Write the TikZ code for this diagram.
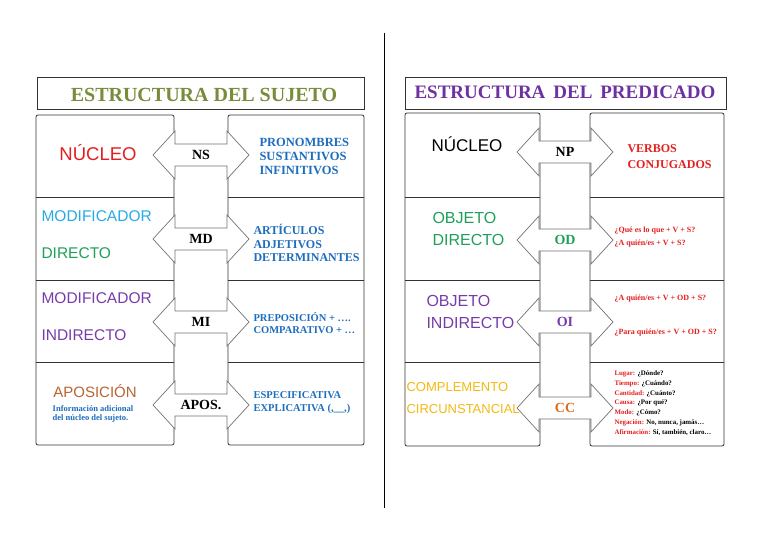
\documentclass[tikz,border=0pt]{standalone}
\usepackage{fontspec}
\setmainfont{Liberation Serif}
\newfontfamily\sans{Liberation Sans}
\definecolor{tgreen}{RGB}{120,140,60}
\definecolor{tpurple}{RGB}{110,50,160}
\definecolor{nred}{RGB}{230,30,30}
\definecolor{mcyan}{RGB}{40,170,230}
\definecolor{mgreen}{RGB}{30,160,90}
\definecolor{mpurple}{RGB}{120,60,170}
\definecolor{mbrown}{RGB}{185,100,50}
\definecolor{tblue}{RGB}{30,110,190}
\definecolor{cyellow}{RGB}{245,185,20}
\definecolor{corange}{RGB}{220,110,30}
\newcommand{\dblarr}[5]{%
 \draw[arrowbox] (#2-48,#3) -- (#2-26,#3-24) -- (#2-26,#3-11) -- (#2+26,#3-11) -- (#2+26,#3-24) -- (#2+48,#3) -- (#2+26,#3+24) -- (#2+26,#3+11) -- (#2-26,#3+11) -- (#2-26,#3+24) -- cycle;
 \node[font=\bfseries\fontsize{14}{14}\selectfont,text=#5] (#1) at (#2,#3) {#4};}
\begin{document}
\begin{tikzpicture}[x=1pt,y=-1pt,
 colbox/.style={draw=black!80,line width=0.8pt,rounded corners=2pt},
 titlebox/.style={draw=black!80,line width=0.8pt},
 arrowbox/.style={draw=black!55,fill=white,line width=0.7pt},
 bigs/.style={font=\sans\fontsize{17}{19}\selectfont},
 rtxt/.style={font=\bfseries\fontsize{10}{11.5}\selectfont,align=left,anchor=west}]
\useasboundingbox (0,0) rectangle (768,543);
\fill[white] (0,0) rectangle (768,543);
\draw[line width=0.8pt] (384,33) -- (384,508);
% LEFT
\draw[titlebox] (37,77) rectangle (364,109);
\node[font=\bfseries\fontsize{20}{20}\selectfont,text=tgreen] (t1) at (204,95) {ESTRUCTURA DEL SUJETO};
\draw[colbox] (36,115) rectangle (174,445);
\draw[colbox] (228,115) rectangle (364,445);
\foreach \y in {197,280,362}{\draw[black!80,line width=0.8pt] (36,\y) -- (174,\y); \draw[black!80,line width=0.8pt] (228,\y) -- (364,\y);}
\dblarr{ns}{201}{155}{NS}{black}
\dblarr{md}{201}{239}{MD}{black}
\dblarr{mi}{201}{322}{MI}{black}
\dblarr{ap}{201}{405}{APOS.}{black}
\node[font=\sans\fontsize{18.5}{19}\selectfont,text=nred] (l1) at (98,153) {NÚCLEO};
\node[font=\sans\fontsize{15.5}{15}\selectfont,text=mcyan,anchor=west] (l2) at (38,216) {MODIFICADOR};
\node[font=\sans\fontsize{15.5}{15}\selectfont,text=mgreen,anchor=west] (l3) at (38,253) {DIRECTO};
\node[font=\sans\fontsize{15.5}{15}\selectfont,text=mpurple,anchor=west] (l4) at (38,298) {MODIFICADOR};
\node[font=\sans\fontsize{15.5}{15}\selectfont,text=mpurple,anchor=west] (l5) at (38,335) {INDIRECTO};
\node[font=\sans\fontsize{15}{15}\selectfont,text=mbrown] (l6) at (95,391) {APOSICIÓN};
\node[font=\bfseries\fontsize{8.5}{9.5}\selectfont,text=tblue,align=left] (l7) at (93,414) {Información adicional\\del núcleo del sujeto.};
\node[rtxt,text=tblue,font=\bfseries\fontsize{12.5}{14}\selectfont] (r1) at (256,156) {PRONOMBRES\\SUSTANTIVOS\\INFINITIVOS};
\node[rtxt,text=tblue,font=\bfseries\fontsize{12}{13.5}\selectfont] (r2) at (250,243) {ARTÍCULOS\\ADJETIVOS\\DETERMINANTES};
\node[rtxt,text=tblue,font=\bfseries\fontsize{10.5}{12.5}\selectfont] (r3) at (250,323) {PREPOSICIÓN + ….\\COMPARATIVO + …};
\node[rtxt,text=tblue,font=\bfseries\fontsize{10.5}{13}\selectfont] (r4) at (250,403) {ESPECIFICATIVA\\EXPLICATIVA (,\_\_,)};
% RIGHT
\draw[titlebox] (405,77) rectangle (726,109);
\node[font=\bfseries\fontsize{19}{19}\selectfont,text=tpurple] (t2) at (565,92) {ESTRUCTURA\, DEL\, PREDICADO};
\draw[colbox] (405,113) rectangle (540,446);
\draw[colbox] (590,113) rectangle (724,446);
\foreach \y in {197,280,362}{\draw[black!80,line width=0.8pt] (405,\y) -- (540,\y); \draw[black!80,line width=0.8pt] (590,\y) -- (724,\y);}
\dblarr{np}{565}{152}{NP}{black}
\dblarr{od}{565}{240}{OD}{mgreen}
\dblarr{oi}{565}{322}{OI}{mpurple}
\dblarr{cc}{565}{408}{CC}{corange}
\node[bigs,text=black] (p1) at (467,144) {NÚCLEO};
\node[font=\sans\fontsize{16}{22}\selectfont,text=mgreen,align=left,anchor=west] (p2) at (429,229) {OBJETO\\DIRECTO};
\node[font=\sans\fontsize{16}{22}\selectfont,text=mpurple,align=left,anchor=west] (p3) at (423,312) {OBJETO\\INDIRECTO};
\node[font=\sans\fontsize{13}{22}\selectfont,text=cyellow,align=left,anchor=west] (p4) at (403,398) {COMPLEMENTO\\CIRCUNSTANCIAL};
\node[rtxt,text=nred,font=\bfseries\fontsize{12}{16}\selectfont] (q1) at (624,157) {VERBOS\\CONJUGADOS};
\node[rtxt,text=nred,font=\bfseries\fontsize{8}{12.5}\selectfont] (q2) at (611,237) {¿Qué es lo que + V + S?\\¿A quién/es + V + S?};
\node[rtxt,text=nred,font=\bfseries\fontsize{8}{8}\selectfont] (q3) at (611,299) {¿A quién/es + V + OD + S?};
\node[rtxt,text=nred,font=\bfseries\fontsize{8}{8}\selectfont] (q4) at (611,333) {¿Para quién/es + V + OD + S?};
\node[rtxt,font=\bfseries\fontsize{6.9}{9.8}\selectfont] (q5) at (611,403) {\textcolor{nred}{Lugar:} ¿Dónde?\\\textcolor{nred}{Tiempo:} ¿Cuándo?\\\textcolor{nred}{Cantidad:} ¿Cuánto?\\\textcolor{nred}{Causa:} ¿Por qué?\\\textcolor{nred}{Modo:} ¿Cómo?\\\textcolor{nred}{Negación:} No, nunca, jamás…\\\textcolor{nred}{Afirmación:} Sí, también, claro…};
\end{tikzpicture}
\end{document}
